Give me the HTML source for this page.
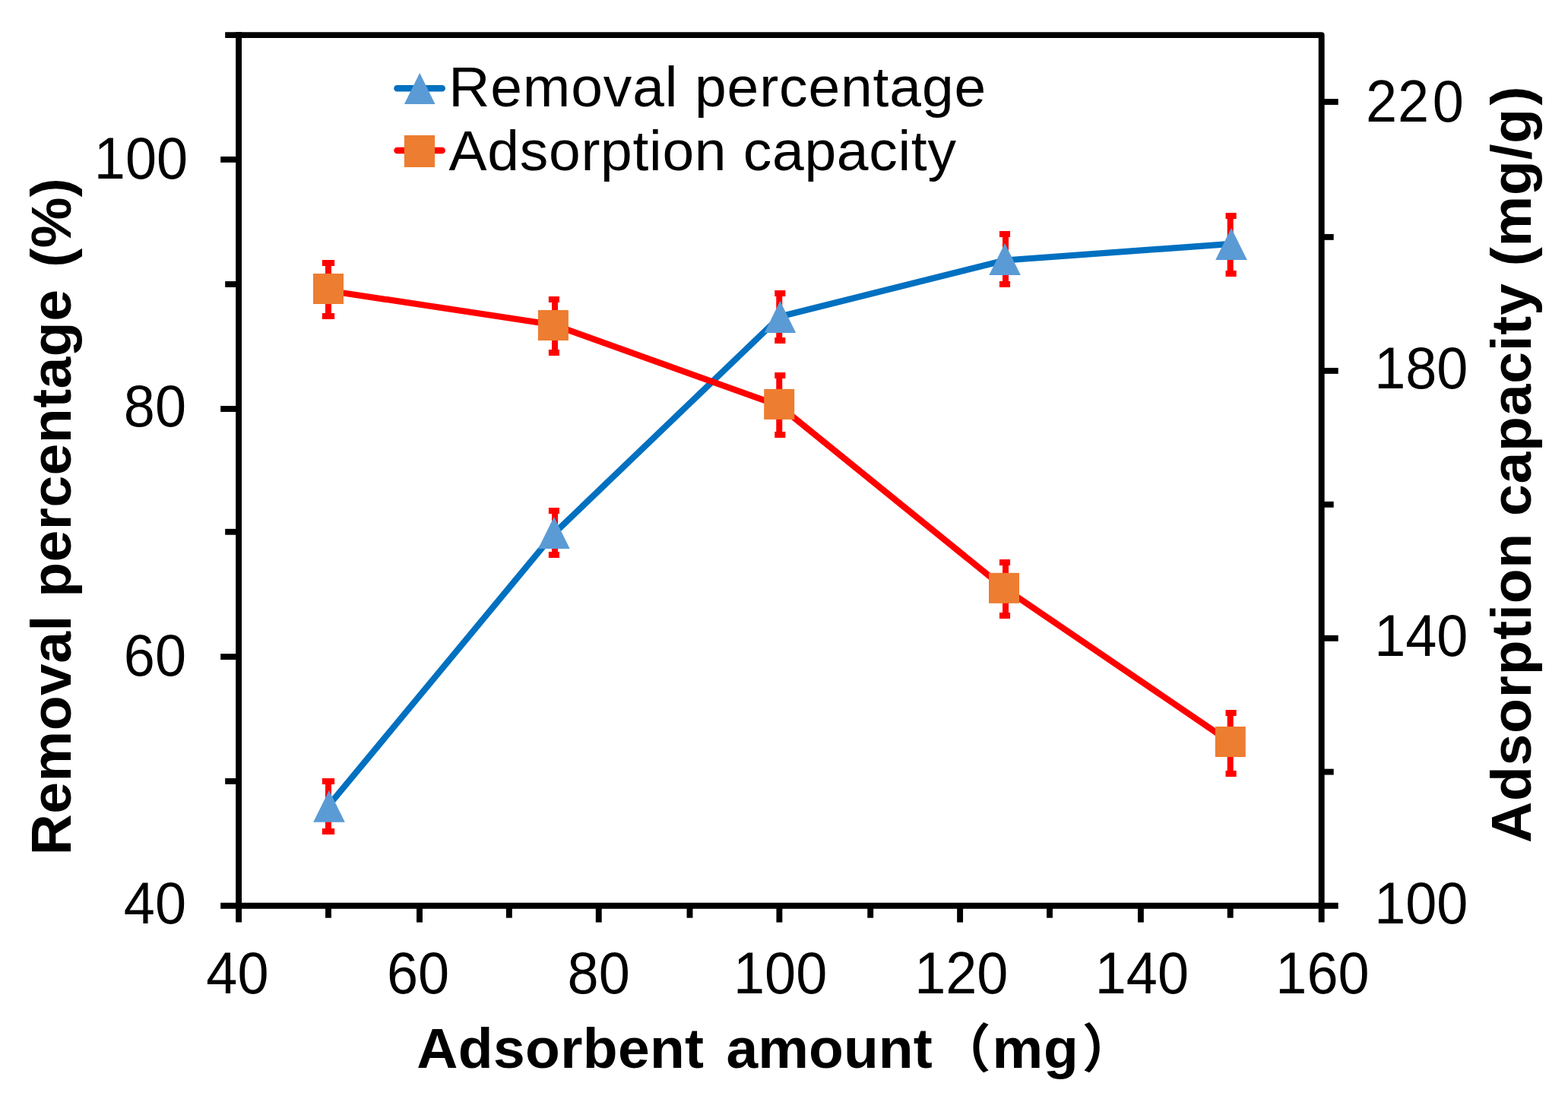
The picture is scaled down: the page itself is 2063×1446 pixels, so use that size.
<!DOCTYPE html>
<html lang="en"><head><meta charset="utf-8"><title>Removal percentage and adsorption capacity vs adsorbent amount</title>
<style>
html,body{margin:0;padding:0;background:#fff;}
body{width:2063px;height:1446px;overflow:hidden;}
svg{display:block;}
text{font-family:"Liberation Sans","Noto Sans CJK SC",sans-serif;fill:#000;}
.t{font-size:75px;}
.b{font-size:75px;font-weight:bold;}
.fw{font-weight:700;font-size:69px;}
</style></head><body>
<svg width="2063" height="1446" viewBox="0 0 2063 1446" role="img" aria-label="Line chart of removal percentage and adsorption capacity against adsorbent amount">
<rect width="2063" height="1446" fill="#fff"/>
<g stroke="#000" stroke-width="7.9" fill="none" stroke-linecap="butt">
<path d="M314.1 42.1 V1213.6"/>
<path d="M290.2 1191.7 H1760.7"/>
<path d="M296.2 46.1 H1738.7 V1213.6" stroke-linejoin="round"/>
<path d="M290.2 209.9 H314.1"/>
<path d="M296.2 374.0 H314.1"/>
<path d="M290.2 538.0 H314.1"/>
<path d="M296.2 699.8 H314.1"/>
<path d="M290.2 864.1 H314.1"/>
<path d="M296.2 1027.9 H314.1"/>
<path d="M1738.7 134.0 H1760.7"/>
<path d="M1738.7 311.9 H1754.7"/>
<path d="M1738.7 487.9 H1760.7"/>
<path d="M1738.7 663.8 H1754.7"/>
<path d="M1738.7 839.8 H1760.7"/>
<path d="M1738.7 1015.6 H1754.7"/>
<path d="M432.00 1191.7 V1207.7"/>
<path d="M552.00 1191.7 V1213.6"/>
<path d="M669.85 1191.7 V1207.7"/>
<path d="M787.75 1191.7 V1213.6"/>
<path d="M907.50 1191.7 V1207.7"/>
<path d="M1025.40 1191.7 V1213.6"/>
<path d="M1145.20 1191.7 V1207.7"/>
<path d="M1263.10 1191.7 V1213.6"/>
<path d="M1381.00 1191.7 V1207.7"/>
<path d="M1500.90 1191.7 V1213.6"/>
<path d="M1618.70 1191.7 V1207.7"/>
</g>
<text class="t" transform="translate(247.1 235.4) scale(0.985 1.030)" text-anchor="end">100</text>
<text class="t" transform="translate(245.0 561.0) scale(0.985 1.030)" text-anchor="end">80</text>
<text class="t" transform="translate(245.0 889.0) scale(0.985 1.030)" text-anchor="end">60</text>
<text class="t" transform="translate(245.0 1215.0) scale(0.985 1.030)" text-anchor="end">40</text>
<text class="t" transform="translate(1931.4 160.0) scale(0.985 1.030)" text-anchor="end"><tspan dx="-5.6">2</tspan><tspan dx="0.8">2</tspan><tspan dx="4.8">0</tspan></text>
<text class="t" transform="translate(1931.4 511.4) scale(0.985 1.030)" text-anchor="end">180</text>
<text class="t" transform="translate(1931.4 863.2) scale(0.985 1.030)" text-anchor="end">140</text>
<text class="t" transform="translate(1931.4 1215.2) scale(0.985 1.030)" text-anchor="end">100</text>
<text class="t" transform="translate(353.5 1306.8) scale(0.985 1.030)" text-anchor="end">40</text>
<text class="t" transform="translate(591.1 1306.8) scale(0.985 1.030)" text-anchor="end">60</text>
<text class="t" transform="translate(828.8 1306.8) scale(0.985 1.030)" text-anchor="end">80</text>
<text class="t" transform="translate(1088.3 1306.8) scale(0.985 1.030)" text-anchor="end">100</text>
<text class="t" transform="translate(1326.4 1306.8) scale(0.985 1.030)" text-anchor="end">120</text>
<text class="t" transform="translate(1564.0 1306.8) scale(0.985 1.030)" text-anchor="end">140</text>
<text class="t" transform="translate(1801.6 1306.8) scale(0.985 1.030)" text-anchor="end">160</text>
<text class="b" transform="translate(92.7 1125.3) rotate(-90)" style="letter-spacing:0.5px" xml:space="preserve">Removal <tspan dx="2">percentage</tspan> <tspan dx="7.5">(%)</tspan></text>
<text class="b" transform="translate(2014.2 1109) rotate(-90)" style="letter-spacing:0.8px" xml:space="preserve">Adsorption <tspan dx="0.5">capacity</tspan> <tspan dx="0.5">(mg/g</tspan><tspan dx="3.5">)</tspan></text>
<text class="b" transform="translate(0 1405.3)" xml:space="preserve"><tspan x="548.3" style="letter-spacing:0.35px">Adsorbent </tspan><tspan x="955.4" style="letter-spacing:0.1px">amount</tspan><tspan x="1234.8" class="fw">（</tspan><tspan x="1305.6" style="letter-spacing:0.6px">mg</tspan><tspan x="1423.4" class="fw">）</tspan></text>
<polyline fill="none" stroke="#0070C0" stroke-width="8.2" stroke-linejoin="round" stroke-linecap="round" points="432.3,1060.0 728.9,702.0 1026.4,416.5 1322.1,342.5 1620.0,320.8"/>
<g stroke="#FF0000" stroke-width="8" fill="none">
<path d="M432.00 1028.0 V1094.0 M423.85 1028.0 H440.15 M423.85 1094.0 H440.15"/>
<path d="M730.00 672.0 V730.0 M721.85 672.0 H735.95 M721.85 730.0 H735.95"/>
<path d="M1025.25 386.0 V448.0 M1019.25 386.0 H1033.35 M1019.25 448.0 H1033.35"/>
<path d="M1323.00 308.0 V374.0 M1314.95 308.0 H1329.05 M1314.95 374.0 H1329.05"/>
<path d="M1618.70 284.0 V360.0 M1612.55 284.0 H1626.65 M1612.55 360.0 H1626.65"/>
</g>
<path d="M433.0 1039.8 L453.8 1081.8 L412.2 1081.8 Z" fill="#5B9BD5"/>
<path d="M728.9 679.9 L749.7 721.9 L708.1 721.9 Z" fill="#5B9BD5"/>
<path d="M1026.4 396.0 L1047.2 438.0 L1005.6 438.0 Z" fill="#5B9BD5"/>
<path d="M1322.1 320.0 L1342.9 362.0 L1301.3 362.0 Z" fill="#5B9BD5"/>
<path d="M1620.0 300.0 L1640.8 342.0 L1599.2 342.0 Z" fill="#5B9BD5"/>
<polyline fill="none" stroke="#FF0000" stroke-width="8.2" stroke-linejoin="round" stroke-linecap="round" points="432.0,382.5 728.0,427.2 1025.2,533.8 1321.0,773.6 1618.8,976.5"/>
<g stroke="#FF0000" stroke-width="8" fill="none">
<path d="M432.00 346.0 V416.0 M423.85 346.0 H440.15 M423.85 416.0 H440.15"/>
<path d="M730.00 394.0 V464.0 M721.85 394.0 H735.95 M721.85 464.0 H735.95"/>
<path d="M1025.25 494.0 V572.0 M1019.25 494.0 H1033.35 M1019.25 572.0 H1033.35"/>
<path d="M1323.00 740.0 V810.0 M1314.95 740.0 H1329.05 M1314.95 810.0 H1329.05"/>
<path d="M1618.70 938.0 V1018.0 M1612.55 938.0 H1626.65 M1612.55 1018.0 H1626.65"/>
</g>
<rect x="412.0" y="360.0" width="40" height="40" fill="#ED7D31"/>
<rect x="707.9" y="408.0" width="40" height="40" fill="#ED7D31"/>
<rect x="1005.2" y="511.9" width="40" height="40" fill="#ED7D31"/>
<rect x="1301.0" y="753.8" width="40" height="40" fill="#ED7D31"/>
<rect x="1598.8" y="956.0" width="40" height="40" fill="#ED7D31"/>
<path d="M522.5 116.2 H581.7" stroke="#0070C0" stroke-width="8.5" stroke-linecap="round"/>
<path d="M552.2 96 L572.5 137 L531.9 137 Z" fill="#5B9BD5"/>
<path d="M522.5 198 H581.7" stroke="#FF0000" stroke-width="8.5" stroke-linecap="round"/>
<rect x="531.9" y="178" width="40.2" height="42" fill="#ED7D31"/>
<text class="t" transform="translate(590.2 139.8)" style="letter-spacing:0.88px">Removal percentage</text>
<text class="t" transform="translate(590.6 223.7)" style="letter-spacing:0.71px">Adsorption capacity</text>
</svg>
</body></html>
